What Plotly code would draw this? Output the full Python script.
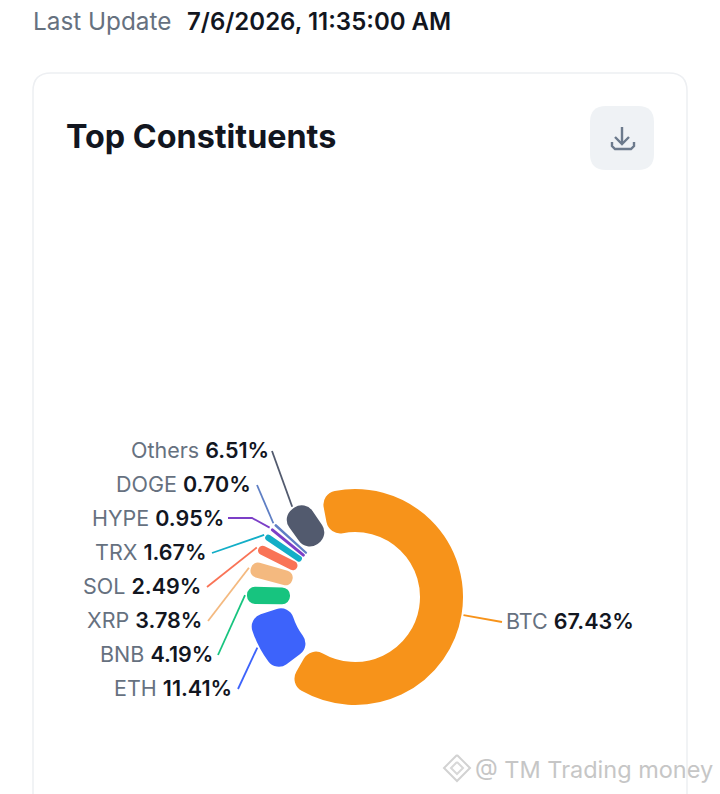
import math
import plotly.graph_objects as go

W, H = 720, 794

# ---- data ----
names = ["BTC", "ETH", "BNB", "XRP", "SOL", "TRX", "HYPE", "DOGE", "Others"]
shares = [67.43, 11.41, 4.19, 3.78, 2.49, 1.67, 0.95, 0.70, 6.51]
share_labels = ["67.43%", "11.41%", "4.19%", "3.78%", "2.49%", "1.67%", "0.95%", "0.70%", "6.51%"]
colors = ["#F7931A", "#3D63FB", "#17C47F", "#F4B97F", "#F97356", "#13AEC7", "#7C3FC7", "#5F7FC4", "#525A6E"]
update_label = "Last Update"
update_value = "7/6/2026, 11:35:00 AM"
title_text = "Top Constituents"
watermark = "@ TM Trading money"

# ---- layout constants ----
CX, CY = 355, 597
R_OUT, R_IN = 108, 65
ROTATION = -23
LEAD_R = 110
R_GAP = 75
corner_stroke = [28, 26, 16, 14, 9, 5.5, 3, 2, 26]
slice_gap = [4, 4, 3, 3, 2.5, 2, 1.5, 1, 3]
label_x = [506, 232, 213, 202, 201, 207, 224, 251, 269]
label_y = [621, 688, 654, 620, 586, 552, 518, 484, 450]
lead_end = [(502, 622), (238, 689), (218, 655), (208, 621), (207, 587), (212, 553), (228, 518), (257, 485), (272, 451)]
lead_elbow = {6: (252, 518)}

LABEL_GREY = "#66717F"
INK = "#12161F"
FONT = "Inter"


def px(x):
    return x / W


def py(y):
    return 1 - y / H


def path(points):
    return "M" + " L".join(f"{px(x):.5f},{py(y):.5f}" for x, y in points)


def rounded_rect(x0, y0, x1, y1, r, open_bottom=False):
    xa, xb = px(x0), px(x1)
    ya, yb = py(y0), py(y1)
    rx, ry = r / W, r / H
    if open_bottom:
        return (
            f"M{xa:.5f},{yb:.5f} L{xa:.5f},{ya - ry:.5f} Q{xa:.5f},{ya:.5f} {xa + rx:.5f},{ya:.5f} "
            f"L{xb - rx:.5f},{ya:.5f} Q{xb:.5f},{ya:.5f} {xb:.5f},{ya - ry:.5f} L{xb:.5f},{yb:.5f}"
        )
    return (
        f"M{xa:.5f},{yb + ry:.5f} L{xa:.5f},{ya - ry:.5f} Q{xa:.5f},{ya:.5f} {xa + rx:.5f},{ya:.5f} "
        f"L{xb - rx:.5f},{ya:.5f} Q{xb:.5f},{ya:.5f} {xb:.5f},{ya - ry:.5f} L{xb:.5f},{yb + ry:.5f} "
        f"Q{xb:.5f},{yb:.5f} {xb - rx:.5f},{yb:.5f} L{xa + rx:.5f},{yb:.5f} Q{xa:.5f},{yb:.5f} {xa:.5f},{yb + ry:.5f} Z"
    )


fig = go.Figure()

# One ring layer per constituent: a rounded stroke of its own width needs its own radii,
# so that every slice still spans the same band of the ring.
total = sum(shares)
deg_per_unit = 360 / total
cum = 0.0
mids = []
for i, (name, v) in enumerate(zip(names, shares)):
    s = corner_stroke[i]
    pad_deg = math.degrees((s + slice_gap[i]) / R_GAP)
    span_deg = max(v * deg_per_unit - pad_deg, 0.02)
    start_deg = cum * deg_per_unit + pad_deg / 2 + ROTATION
    mids.append((cum + v / 2) * deg_per_unit + ROTATION)
    cum += v
    r_o = R_OUT - s / 2
    r_i = R_IN + s / 2
    fig.add_trace(go.Pie(
        labels=[name, "rest"],
        values=[span_deg, 360 - span_deg],
        sort=False,
        direction="clockwise",
        rotation=((start_deg + 180) % 360) - 180,
        hole=r_i / r_o,
        textinfo="none",
        hoverinfo="skip",
        showlegend=False,
        marker=dict(colors=[colors[i], "rgba(0,0,0,0)"],
                    line=dict(color=[colors[i], "rgba(0,0,0,0)"], width=[s, 0])),
        domain=dict(x=[px(CX - r_o), px(CX + r_o)], y=[py(CY + r_o), py(CY - r_o)]),
    ))

shapes = [
    dict(type="path", path=rounded_rect(33, 73, 687, 810, 18, True), xref="paper", yref="paper",
         line=dict(color="#EDEFF2", width=1.5), layer="below"),
    dict(type="path", path=rounded_rect(590, 106, 654, 170, 16), xref="paper", yref="paper",
         fillcolor="#EFF2F5", line=dict(width=0), layer="below"),
]
icon = [
    [(622, 127), (622, 143)],
    [(615, 137), (622, 144), (629, 137)],
    [(612, 142), (612, 146), (615, 149), (631, 149), (634, 146), (634, 142)],
]
for pts in icon:
    shapes.append(dict(type="path", path=path(pts), xref="paper", yref="paper",
                       line=dict(color="#6C7A8C", width=2.4)))

# Watermark logo
cxm, cym = 457, 768
for rad, col in ((13, "#D2D2D2"), (6, "#D8D8D8")):
    shapes.append(dict(type="path",
                       path=path([(cxm, cym - rad), (cxm + rad, cym), (cxm, cym + rad), (cxm - rad, cym), (cxm, cym - rad)]),
                       xref="paper", yref="paper", line=dict(color=col, width=2)))

# Leader lines start at each slice's mid angle
for i, mid in enumerate(mids):
    a = math.radians(mid)
    start = (CX + LEAD_R * math.sin(a), CY - LEAD_R * math.cos(a))
    pts = [start]
    if i in lead_elbow:
        pts.append(lead_elbow[i])
    pts.append(lead_end[i])
    shapes.append(dict(type="path", path=path(pts), xref="paper", yref="paper",
                       line=dict(color=colors[i], width=1.8)))

annotations = []


def text(x, y, s, size, color=INK, anchor="left", weight=None, family=FONT):
    annotations.append(dict(
        x=px(x), y=py(y), xref="paper", yref="paper", text=s, showarrow=False,
        xanchor=anchor, yanchor="middle", align=anchor,
        font=dict(family=family, size=size, color=color, weight=weight), borderpad=0, borderwidth=0,
    ))


text(33, 21, update_label, 24.3, LABEL_GREY)
text(187, 21, update_value, 24, INK, weight=600)
text(66, 137, title_text, 32.3, INK, weight=700)
for i, (n, lab) in enumerate(zip(names, share_labels)):
    s = f'<span style="color:{LABEL_GREY}">{n} </span><span style="font-weight:600">{lab}</span>'
    text(label_x[i], label_y[i], s, 21.5, INK, anchor="left" if i == 0 else "right")
text(475, 769, watermark, 23.5, "#C6C6C6")

fig.update_layout(
    width=W, height=H, autosize=False,
    margin=dict(l=0, r=0, t=0, b=0),
    paper_bgcolor="white", plot_bgcolor="white",
    shapes=shapes, annotations=annotations,
    hovermode=False,
)

post = """
document.documentElement.style.margin='0';
document.body.style.margin='0';
document.querySelectorAll('.slice path.surface').forEach(function(p){p.style.strokeLinejoin='round';});
"""
fig.write_html("out.html", post_script=post, config=dict(displayModeBar=False))
